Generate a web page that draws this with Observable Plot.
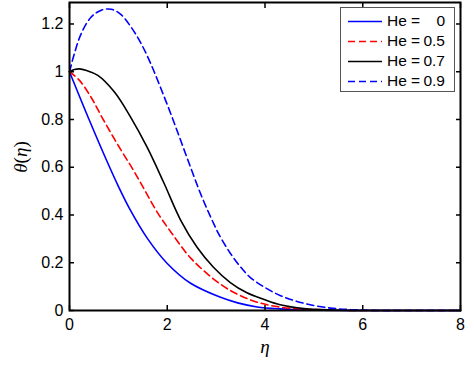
<!DOCTYPE html>
<html><head><meta charset="utf-8">
<script src="https://cdn.jsdelivr.net/npm/d3@7"></script>
<script src="https://cdn.jsdelivr.net/npm/@observablehq/plot@0.6"></script>
<style>
body{margin:0;background:#fff;}
#wrap{position:relative;width:474px;height:366px;font-family:"Liberation Sans",Arial,sans-serif;background:#fff;}
#legend{position:absolute;left:340px;top:7px;width:115px;height:85px;border:1px solid #555;background:#fff;box-sizing:border-box;}
.row{position:absolute;left:0;height:20px;width:113px;font-size:15.5px;line-height:20px;color:#000;}
.row svg{position:absolute;left:7px;top:0;}
.row .lab{position:absolute;left:46px;top:0;white-space:pre;}
.row .val{position:absolute;right:9px;top:0;}
#ylab{position:absolute;left:21px;top:157px;transform:translate(-50%,-50%) rotate(-90deg);font-family:"Liberation Serif","Times New Roman",serif;font-size:19px;white-space:nowrap;}
#xlab{position:absolute;left:265px;top:347px;transform:translate(-50%,-50%);font-family:"Liberation Serif","Times New Roman",serif;font-size:19px;font-style:italic;}
</style></head>
<body>
<div id="wrap"></div>
<script>
// ---- data ----
const heLabels = ["0", "0.5", "0.7", "0.9"];
const colors = ["#0000ff", "#ff0000", "#000000", "#0000ff"];
const dashes = [null, "7,4", null, "7,4"];

const eta0   = [0, 0.4, 0.81, 1.0, 1.22, 1.6, 2.0, 2.47, 3.09, 3.44, 3.84, 4.3, 5.0, 6.0, 7.0, 8.0];
const theta0 = [1, 0.8, 0.605, 0.52, 0.43, 0.3, 0.197, 0.115, 0.055, 0.032, 0.015, 0.007, 0.002, 0, 0, 0];

const eta05   = [0, 0.2, 0.45, 0.69, 1.0, 1.3, 1.55, 1.8, 2.07, 2.5, 3.09, 3.44, 3.84, 4.32, 5.0, 6.0, 7.0, 8.0];
const theta05 = [1, 0.965, 0.89, 0.8, 0.69, 0.59, 0.5, 0.41, 0.33, 0.215, 0.11, 0.068, 0.035, 0.014, 0.004, 0, 0, 0];

const eta07   = [0, 0.1, 0.2, 0.35, 0.58, 0.92, 1.25, 1.59, 1.93, 2.27, 2.61, 2.95, 3.29, 3.63, 3.97, 4.31, 4.8, 5.4, 6.0, 7.0, 8.0];
const theta07 = [1, 1.009, 1.012, 1.005, 0.985, 0.915, 0.81, 0.683, 0.535, 0.38, 0.265, 0.18, 0.117, 0.074, 0.047, 0.024, 0.008, 0.002, 0, 0, 0];

const eta09   = [0, 0.1, 0.24, 0.44, 0.64, 0.85, 1.05, 1.25, 1.46, 1.66, 1.86, 2.07, 2.27, 2.48, 2.68, 2.88, 3.08, 3.29, 3.49, 3.69, 3.97, 4.32, 4.8, 5.34, 5.75, 6.3, 7.0, 8.0];
const theta09 = [1, 1.076, 1.16, 1.228, 1.257, 1.262, 1.24, 1.19, 1.12, 1.035, 0.935, 0.825, 0.715, 0.598, 0.49, 0.395, 0.31, 0.24, 0.185, 0.14, 0.1, 0.062, 0.03, 0.01, 0.004, 0, 0, 0];

const xTicks = [0, 2, 4, 6, 8];
const yTicks = [0, 0.2, 0.4, 0.6, 0.8, 1, 1.2];
const yTickLabels = ["0", "0.2", "0.4", "0.6", "0.8", "1", "1.2"];

const etas = [eta0, eta05, eta07, eta09];
const thetas = [theta0, theta05, theta07, theta09];
const series = etas.map((e, i) => e.map((x, j) => ({eta: x, theta: thetas[i][j]})));

const blank = () => "";
const chart = Plot.plot({
  width: 474, height: 366,
  marginLeft: 69, marginRight: 14, marginTop: 2, marginBottom: 56,
  x: {domain: [0, 8]},
  y: {domain: [0, 1.29]},
  style: {fontFamily: "'Liberation Sans', Arial, sans-serif", fontSize: "16px", color: "#000", background: "#fff"},
  marks: [
    ...series.map((s, i) => Plot.line(s, {x: "eta", y: "theta", stroke: colors[i], strokeWidth: 1.6,
      strokeDasharray: dashes[i], curve: "catmull-rom"})),
    Plot.axisX(xTicks, {anchor: "bottom", tickSize: 0, tickPadding: 8, fontSize: 16, label: null}),
    Plot.axisX(xTicks, {anchor: "bottom", tickSize: -5, tickFormat: blank, label: null, strokeWidth: 1.5}),
    Plot.axisX(xTicks, {anchor: "top", tickSize: -5, tickFormat: blank, label: null, strokeWidth: 1.5}),
    Plot.axisY(yTicks, {anchor: "left", tickSize: 0, tickPadding: 6, fontSize: 16, label: null,
      tickFormat: (d, i) => yTickLabels[i]}),
    Plot.axisY(yTicks, {anchor: "left", tickSize: -5, tickFormat: blank, label: null, strokeWidth: 1.5}),
    Plot.axisY(yTicks, {anchor: "right", tickSize: -5, tickFormat: blank, label: null, strokeWidth: 1.5}),
    Plot.frame({stroke: "#000", strokeWidth: 2})
  ]
});
const wrap = document.getElementById("wrap");
wrap.appendChild(chart);

// legend
const lg = document.createElement("div");
lg.id = "legend";
heLabels.forEach((h, i) => {
  const r = document.createElement("div");
  r.className = "row";
  r.style.top = (3 + i * 20) + "px";
  r.innerHTML = `<svg width="36" height="20"><line x1="0" x2="34" y1="10.5" y2="10.5" stroke="${colors[i]}" stroke-width="1.6" ${dashes[i] ? `stroke-dasharray="${dashes[i]}"` : ""}/></svg><span class="lab">He =</span><span class="val">${h}</span>`;
  lg.appendChild(r);
});
wrap.appendChild(lg);

const yl = document.createElement("div");
yl.id = "ylab";
yl.innerHTML = '<i>θ</i>(<i>η</i>)';
wrap.appendChild(yl);
const xl = document.createElement("div");
xl.id = "xlab";
xl.textContent = "η";
wrap.appendChild(xl);
</script>
</body></html>
